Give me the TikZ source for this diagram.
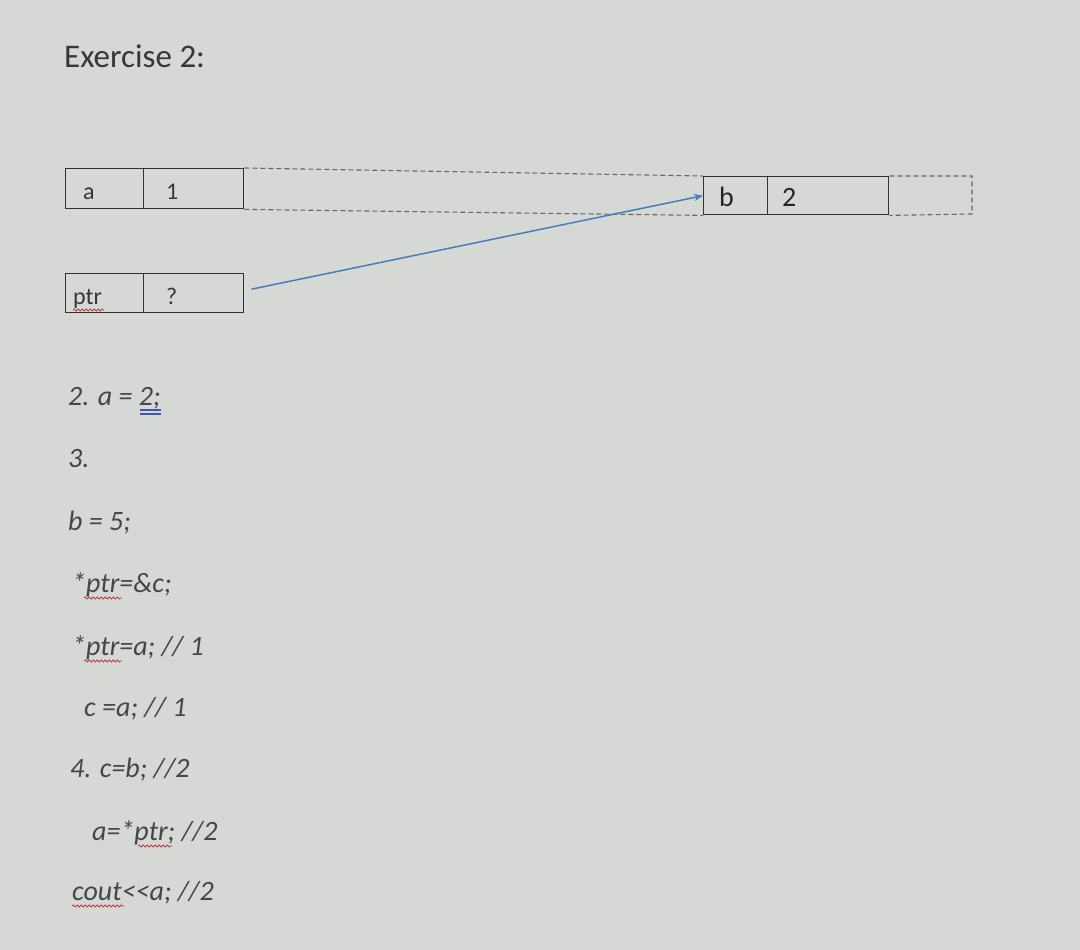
\documentclass[tikz,border=0pt]{standalone}
\usepackage{fontspec}
\setmainfont{Carlito}
\usetikzlibrary{decorations.pathmorphing,arrows.meta}
\definecolor{bg}{RGB}{214,216,214}
\definecolor{ink}{RGB}{55,55,55}
\definecolor{codeink}{RGB}{70,70,70}
\definecolor{arrowblue}{RGB}{70,125,190}
\definecolor{squig}{RGB}{185,60,70}
\definecolor{gramblue}{RGB}{60,90,170}
\begin{document}
\begin{tikzpicture}[x=1pt,y=-1pt,
  cell/.style={draw=black!80, line width=1.4pt, minimum height=40, inner sep=0, anchor=north west},
  lbl/.style={anchor=base west, inner sep=0, text=ink, font=\fontsize{24}{28}\selectfont},
  bigl/.style={anchor=base west, inner sep=0, text=black!85, font=\fontsize{28}{32}\selectfont},
  code/.style={anchor=base west, inner sep=0, text=codeink, font=\fontsize{28}{32}\selectfont\itshape},
  dline/.style={draw=black!60, dashed, dash pattern=on 5pt off 3pt, line width=1.1pt},
  squiggle/.style={draw=squig, line width=0.8pt, decorate, decoration={snake, amplitude=1pt, segment length=4pt}},
  ptrarrow/.style={draw=arrowblue, line width=1.5pt, -{Stealth[length=9pt,width=7pt]}}]
\fill[bg] (0,0) rectangle (1080,950);
\useasboundingbox (0,0) rectangle (1080,950);

% title
\node[anchor=base west, inner sep=0, text=ink, font=\fontsize{33}{37}\selectfont] (title) at (64,68) {Exercise 2:};

% memory cells
\node[cell, minimum width=78] (aname) at (65,168) {};
\node[cell, minimum width=100] (aval) at (143,168) {};
\node[cell, minimum width=78, minimum height=39] (pname) at (65,273) {};
\node[cell, minimum width=100, minimum height=39] (pval) at (143,273) {};
\node[cell, minimum width=64, minimum height=38] (bname) at (703,176) {};
\node[cell, minimum width=121, minimum height=38] (bval) at (767,176) {};

\node[lbl] (alab) at (83,199) {a};
\node[lbl] (avlab) at (166,199) {1};
\node[lbl] (plab) at (73,304) {ptr};
\node[lbl] (pvlab) at (166,304) {?};
\node[bigl] (blab) at (719,206) {b};
\node[bigl] (bvlab) at (782,206) {2};

% dashed outline
\coordinate (dtr) at (972,176);
\coordinate (dbr) at (972,214);
\draw[dline] (aval.north east) -- (bname.north west);
\draw[dline] (aval.south east) -- (bname.south west);
\draw[dline] (bval.north east) -- (dtr) -- (dbr) -- (bval.south east);

% pointer arrow
\draw[ptrarrow] ([xshift=7pt,yshift=4pt]pval.east) -- (bname.west);

% code lines
\node[code] (l1) at (68,405) {2. a = 2;};
\node[code] (l2) at (68,467) {3.};
\node[code] (l3) at (68,530) {b = 5;};
\node[code] (l4) at (72,592) {*ptr=\&c;};
\node[code] (l5) at (72,655) {*ptr=a; // 1};
\node[code] (l6) at (84,716) {c =a; // 1};
\node[code] (l7) at (70,777) {4. c=b; //2};
\node[code] (l8) at (92,840) {a=*ptr; //2};
\node[code] (l9) at (72,900) {cout{<}{<}a; //2};

% spell-check marks
\draw[squiggle] (73,310) -- (104,310);
\draw[squiggle] (84,598) -- (122,598);
\draw[squiggle] (84,661) -- (122,661);
\draw[squiggle] (138,846) -- (172,846);
\draw[squiggle] (72,906) -- (124,906);
\draw[gramblue, line width=1.2pt] (140,410) -- (161,410);
\draw[gramblue, line width=1.2pt] (140,414) -- (161,414);
\end{tikzpicture}
\end{document}
